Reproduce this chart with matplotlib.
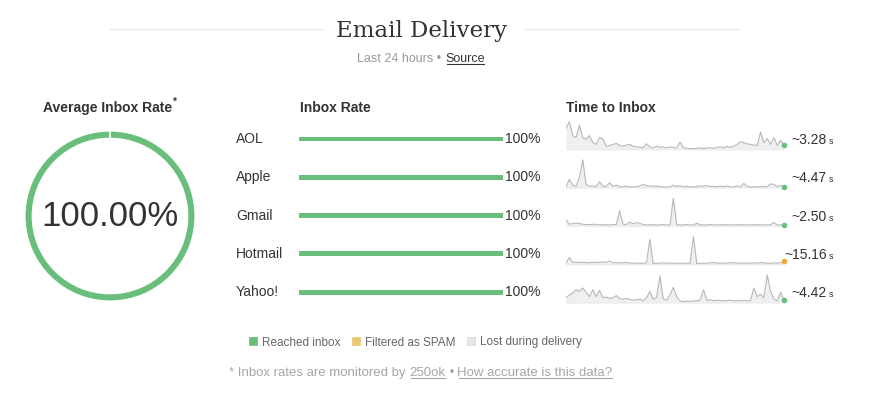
import matplotlib
matplotlib.use("Agg")
import matplotlib.pyplot as plt

plt.rcParams['font.family'] = ['Liberation Sans', 'DejaVu Sans']

# data
providers = ["AOL", "Apple", "Gmail", "Hotmail", "Yahoo!"]
inbox_rate = [100, 100, 100, 100, 100]
average_rate = 100.00
split = [100.0, 0.0, 0.0]  # reached inbox, filtered as spam, lost
last_time = ["~3.28", "~4.47", "~2.50", "~15.16", "~4.42"]
dot_colors = ["#69be7c", "#69be7c", "#69be7c", "#f0a93b", "#69be7c"]

# time to inbox (relative heights)
t_aol = [60, 80, 40, 35, 70, 35, 30, 40, 20, 15, 35, 30, 10, 12, 15, 18, 12, 10, 13, 15,
         10, 8, 7, 5, 17, 8, 5, 10, 7, 8, 5, 8, 6, 5, 22, 6, 4, 3, 3, 4,
         5, 3, 5, 6, 4, 7, 8, 6, 9, 7, 10, 15, 23, 20, 17, 15, 13, 12, 50, 20,
         32, 15, 35, 12, 27, 13]
t_apple = [3, 25, 8, 5, 30, 80, 10, 5, 6, 4, 18, 5, 4, 15, 5, 8, 4, 3, 6, 3,
           3, 4, 6, 10, 7, 6, 5, 6, 4, 3, 3, 3, 8, 4, 7, 3, 5, 3, 3, 4,
           6, 5, 7, 4, 5, 3, 5, 4, 6, 3, 3, 6, 3, 13, 5, 3, 3, 4, 3, 5,
           3, 12, 10, 4, 8, 3]
t_gmail = [18, 5, 7, 8, 7, 5, 4, 4, 5, 4, 3, 4, 3, 3, 4, 4, 45, 5, 4, 12,
           6, 10, 8, 4, 3, 3, 4, 3, 3, 4, 3, 3, 82, 4, 3, 3, 4, 3, 3, 8,
           3, 3, 3, 4, 3, 3, 3, 4, 3, 3, 3, 3, 4, 3, 3, 3, 3, 4, 3, 3,
           3, 4, 10, 3, 3, 2]
t_hotmail = [3, 20, 5, 6, 5, 6, 5, 4, 6, 5, 6, 7, 5, 10, 4, 5, 4, 4, 5, 4,
             3, 3, 3, 3, 4, 72, 2, 3, 3, 4, 3, 3, 3, 3, 3, 3, 3, 3, 80, 2,
             3, 3, 3, 4, 5, 3, 4, 3, 3, 4, 5, 3, 3, 4, 3, 3, 4, 3, 5, 4,
             3, 3, 4, 3, 4, 8]
t_yahoo = [12, 20, 25, 35, 30, 40, 28, 15, 35, 15, 33, 12, 14, 10, 12, 18, 10, 8, 10, 7,
           5, 6, 8, 3, 12, 30, 8, 12, 75, 8, 5, 20, 42, 15, 3, 0, 2, 1, 3, 3,
           5, 35, 5, 6, 3, 5, 4, 3, 4, 5, 3, 4, 3, 5, 3, 3, 40, 15, 22, 12,
           78, 30, 8, 3, 28, 4]
times = [t_aol, t_apple, t_gmail, t_hotmail, t_yahoo]

legend_labels = ["Reached inbox", "Filtered as SPAM", "Lost during delivery"]
legend_colors = ["#69be7c", "#e8c870", "#e6e6e6"]

GREEN = "#69be7c"
DARK = "#333333"
W, H = 870, 401

fig = plt.figure(figsize=(W / 100, H / 100), dpi=100)
bg = fig.add_axes([0, 0, 1, 1])
bg.set_xlim(0, W)
bg.set_ylim(H, 0)
bg.axis("off")
renderer = fig.canvas.get_renderer()


def px_axes(x0, y0, x1, y1):
    # pixel box (top-left origin) -> figure axes
    return fig.add_axes([x0 / W, 1 - y1 / H, (x1 - x0) / W, (y1 - y0) / H])


def text_width(s, size):
    # trailing spaces are not counted by the extent, so pad with "x"
    t = bg.text(0, 0, s + "x", fontsize=size)
    x = bg.text(0, 0, "x", fontsize=size)
    w = t.get_window_extent(renderer).width - x.get_window_extent(renderer).width
    t.remove()
    x.remove()
    return w


def chain(parts, x, y, size, center=False):
    # parts: (text, color, underline)
    widths = [text_width(txt, size) for txt, _, _ in parts]
    cur = x - sum(widths) / 2 if center else x
    for (txt, col, ul), w in zip(parts, widths):
        bg.text(cur, y, txt, color=col, fontsize=size, ha="left", va="baseline")
        if ul:
            bg.plot([cur + 1.5, cur + w - 0.5], [y + 2.2, y + 2.2], color=col, lw=0.8)
        cur += w


# title
bg.text(W / 2 - 13, 37, "Email Delivery", fontsize=16.5, family="DejaVu Serif",
        color="#333333", ha="center", va="baseline")
bg.plot([110, 323], [29, 29], color="#ececec", lw=1)
bg.plot([525, 740], [29, 29], color="#ececec", lw=1)
chain([("Last 24 hours \u2022 ", "#999999", False), ("Source", DARK, True)],
      421, 62, 9, center=True)

# average inbox rate donut
bg.text(108, 112, "Average Inbox Rate", fontsize=10, fontweight="bold",
        color=DARK, ha="center", va="baseline")
bg.text(173, 105, "*", fontsize=7, fontweight="bold", color=DARK, ha="left", va="baseline")
dax = px_axes(25, 131, 195, 301)
dax.pie(split, colors=legend_colors, startangle=90, counterclock=False,
        wedgeprops=dict(width=0.085, edgecolor="white", linewidth=0.8))
dax.set_xlim(-1.0, 1.0)
dax.set_ylim(-1.0, 1.0)
dax.set_aspect("equal")
dax.text(0, 0, f"{average_rate:.2f}%", fontsize=25, color=DARK,
         ha="center", va="center")

# inbox rate bars
row_y = [139 + 38.3 * i for i in range(len(providers))]
bg.text(300, 112, "Inbox Rate", fontsize=10, fontweight="bold", color=DARK,
        ha="left", va="baseline")
bg.text(566, 112, "Time to Inbox", fontsize=10, fontweight="bold", color=DARK,
        ha="left", va="baseline")
bax = px_axes(299, row_y[0] - 19.15, 503, row_y[-1] + 19.15)
bax.barh(range(len(providers)), inbox_rate, height=0.13, color=GREEN)
bax.set_xlim(0, 100)
bax.set_ylim(len(providers) - 0.5, -0.5)
bax.axis("off")

for i, name in enumerate(providers):
    y = row_y[i]
    bg.text(236, y, name, fontsize=10, color=DARK, ha="left", va="center")
    bg.text(505, y, f"{inbox_rate[i]}%", fontsize=10, color=DARK, ha="left", va="center")

    # sparkline
    v = times[i]
    sax = px_axes(566, y - 19, 784, y + 11)
    lo = min(v) - 0.05 * (max(v) - min(v))
    hi = max(v) + 0.06 * (max(v) - min(v))
    xs = range(len(v))
    sax.fill_between(xs, v, lo, color="#efefef", lw=0)
    sax.plot(xs, v, color="#b8b8b8", lw=0.8)
    sax.axhline(lo, color="#c8c8c8", lw=0.9, ls=(0, (1.5, 1.5)))
    sax.plot([len(v) - 1], [v[-1]], "o", ms=3, color=dot_colors[i], clip_on=False)
    sax.set_xlim(0, len(v) - 1)
    sax.set_ylim(lo, hi)
    sax.axis("off")

    bg.text(827, y + 5, last_time[i], fontsize=10, color=DARK, ha="right", va="baseline")
    bg.text(829, y + 5, "s", fontsize=6.5, color=DARK, ha="left", va="baseline")

# legend
lx = [249, 352, 467]
for x, lab, col in zip(lx, legend_labels, legend_colors):
    bg.add_patch(plt.Rectangle((x, 337), 8, 8, facecolor=col,
                               edgecolor="#d8d8d8" if col == "#e6e6e6" else col, lw=0.5))
    bg.text(x + 13, 345.5, lab, fontsize=8.5, color="#666666", ha="left", va="baseline")

# footer
grey = "#a6a6a6"
chain([("* Inbox rates are monitored by ", grey, False), ("250ok", grey, True),
       (" \u2022 ", grey, False), ("How accurate is this data?", grey, True)],
      421, 376, 9.5, center=True)

fig.savefig("out.png", dpi=100)
